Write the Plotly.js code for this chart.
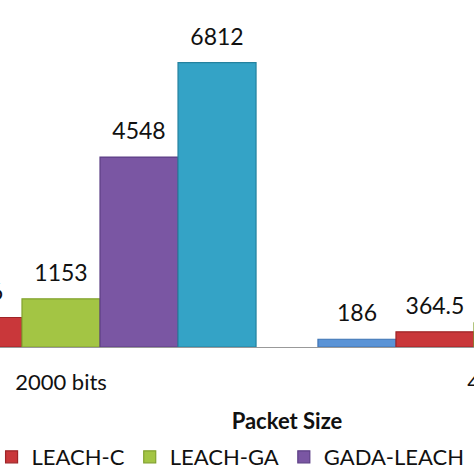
<!DOCTYPE html>
<html>
<head>
<meta charset="utf-8">
<script src="https://cdn.plot.ly/plotly-3.0.1.min.js"></script>
<style>
  html, body { margin: 0; padding: 0; overflow: hidden; background: #fff; }
  #wrap { position: relative; width: 474px; height: 474px; overflow: hidden; }
  #chart { position: absolute; left: -165px; top: 0; width: 904px; height: 500px; }
</style>
</head>
<body>
<div id="wrap"><div id="chart"></div></div>
<script>
// packet sizes on the x axis
var packetSizes = ['2000 bits', '4000 bits'];

// one value per packet size, per protocol
var leach      = [358, 186];
var leachC     = [706, 364.5];
var leachGA    = [1153, 577];
var gadaLeach  = [4548, 2270];
var proposed   = [6812, 3410];

var names  = ['LEACH', 'LEACH-C', 'LEACH-GA', 'GADA-LEACH', 'Proposed'];
var series = [leach, leachC, leachGA, gadaLeach, proposed];
var colors = ['#5a93d6', '#c9373a', '#a3c544', '#7a56a3', '#34a3c6'];
var edges  = ['#3f74b3', '#9e2427', '#82a22e', '#5c3e85', '#24829f'];

var data = [];
for (var i = 0; i < series.length; i++) {
  data.push({
    type: 'bar',
    name: names[i],
    x: packetSizes,
    y: series[i],
    offsetgroup: 'g' + i,
    marker: {color: colors[i], line: {color: edges[i], width: 1.2}},
    hoverinfo: 'none'
  });
}
// value labels: grouped scatter text sitting a bit above each bar
for (var i = 0; i < series.length; i++) {
  data.push({
    type: 'scatter',
    mode: 'markers+text',
    x: packetSizes,
    y: series[i],
    offsetgroup: 'g' + i,
    text: series[i].map(String),
    textposition: 'top center',
    textfont: {family: 'Lato, sans-serif', size: 23, color: '#111'},
    marker: {size: 18, opacity: 0},
    cliponaxis: false,
    showlegend: false,
    hoverinfo: 'none'
  });
}

// the figure is a bit bigger than the window; the window crops it
var layout = {
  width: 904,
  height: 500,
  margin: {l: 0, r: 0, t: 13, b: 153},
  barmode: 'group',
  bargap: 0.137,
  bargroupgap: 0,
  scattermode: 'group',
  scattergap: 0.137,
  paper_bgcolor: '#fff',
  plot_bgcolor: '#fff',
  font: {family: 'Lato, sans-serif', color: '#111'},
  title: {
    text: '<b>Packet Size</b>',
    font: {size: 22, color: '#111'},
    x: 0.5, xanchor: 'center',
    xref: 'paper',
    yref: 'container',
    y: 0.158, yanchor: 'middle'
  },
  xaxis: {
    type: 'category',
    range: [-0.5, 1.5],
    automargin: false,
    showline: true,
    linecolor: '#999',
    linewidth: 1,
    ticks: '',
    tickfont: {size: 22, color: '#111'},
    ticklabelstandoff: 16
  },
  yaxis: {
    range: [0, 8000],
    visible: false,
    automargin: false,
    showgrid: false,
    zeroline: false
  },
  showlegend: true,
  legend: {
    orientation: 'h',
    x: 0.046, xanchor: 'left',
    yref: 'container',
    y: 0.044, yanchor: 'bottom',
    font: {size: 22, color: '#111'},
    itemwidth: 30,
    traceorder: 'normal'
  }
};

Plotly.newPlot('chart', data, layout, {displayModeBar: false, staticPlot: true});
</script>
</body>
</html>
